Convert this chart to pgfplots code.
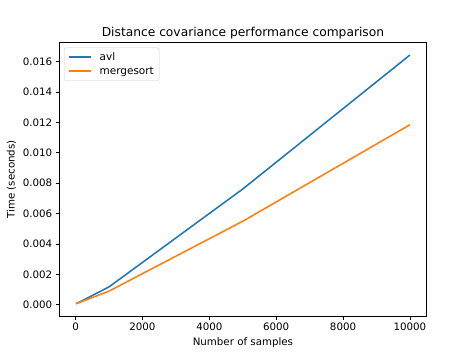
\documentclass[border=0pt]{standalone}
\usepackage{pgfplots}
\pgfplotsset{compat=1.18}
\usepackage{fontspec}
\setmainfont{DejaVu Sans}
\definecolor{mplblue}{HTML}{1F77B4}
\definecolor{mplorange}{HTML}{FF7F0E}
\begin{document}
\begin{tikzpicture}[x=1bp,y=1bp]
\path (0,0) rectangle (474,355);
\begin{axis}[
  at={(59.25bp,39bp)}, anchor=south west,
  scale only axis, width=367.35bp, height=273.4bp,
  xmin=-489.5, xmax=10499.5,
  ymin=-0.000738, ymax=0.017258,
  xtick={0,2000,4000,6000,8000,10000},
  ytick={0,0.002,0.004,0.006,0.008,0.010,0.012,0.014,0.016},
  scaled y ticks=false, scaled x ticks=false,
  /pgf/number format/assume math mode=true,
  x tick label style={/pgf/number format/1000 sep={}},
  y tick label style={/pgf/number format/.cd, fixed, fixed zerofill, precision=3},
  tick align=outside, tick pos=left,
  major tick length=3.6bp,
  every tick/.style={black, line width=0.82bp},
  axis line style={line width=0.82bp},
  tick label style={font=\fontsize{10.3}{12}\selectfont},
  label style={font=\fontsize{10.3}{12}\selectfont},
  xlabel={Number of samples}, ylabel={Time (seconds)},
  title={Distance covariance performance comparison},
  every axis title/.style={at={(0.5,1)}, anchor=base, yshift=6.5bp, font=\fontsize{12.3}{14}\selectfont},
  legend style={at={(0,1)}, anchor=north west, xshift=5bp, yshift=-5bp,
    draw=black!20, rounded corners=2bp, font=\fontsize{10.5}{12}\selectfont,
    inner sep=2.5bp, inner xsep=3.5bp, row sep=1.5bp},
  legend cell align=left,
  legend image code/.code={\draw[#1, line width=2bp] (0bp,0.3bp) -- (21.6bp,0.3bp); \path (28bp,0bp);},
]
\addplot[mplblue, line width=1.54bp] coordinates {
(10,0.00008) (100,0.00016) (1000,0.00118) (5000,0.00762) (10000,0.01644)};
\addlegendentry{avl}
\addplot[mplorange, line width=1.54bp] coordinates {
(10,0.00008) (100,0.00014) (1000,0.00090) (5000,0.00550) (10000,0.01185)};
\addlegendentry{mergesort}
\end{axis}
\end{tikzpicture}
\end{document}
